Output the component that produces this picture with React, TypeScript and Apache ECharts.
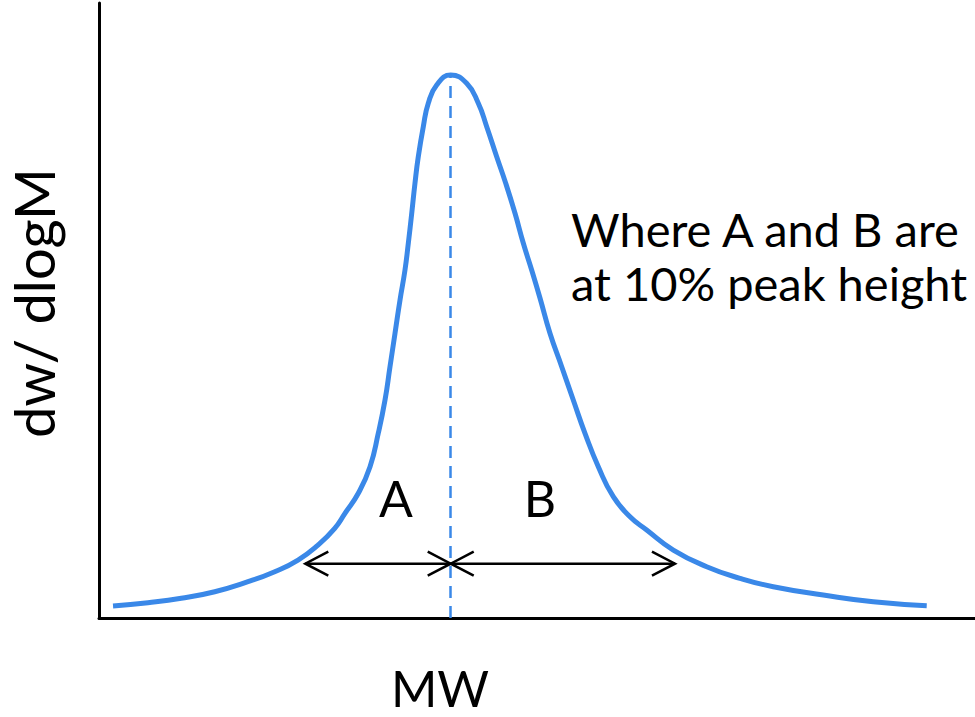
import React, { useEffect, useRef } from "react";
import * as echarts from "echarts";

// Curve: x in % of axis width, y in % of peak height
const curveX = [1.6, 5.59, 9.39, 13.21, 17.01, 20.06, 22.72, 25.0, 26.91, 28.08, 29.6, 30.94, 31.88, 32.65, 33.22, 33.79, 34.36, 34.93, 35.31, 35.7, 36.07, 36.45, 37.02, 37.59, 38.55, 40.15, 41.97, 43.3, 44.26, 45.4, 46.43, 47.49, 48.44, 49.39, 50.34, 51.48, 52.82, 54.14, 55.48, 57.0, 58.71, 60.62, 62.52, 65.56, 69.37, 73.17, 76.97, 82.68, 88.39, 94.49];
const curveY = [2.21, 2.82, 3.63, 4.84, 6.69, 8.53, 10.68, 13.44, 16.52, 19.28, 22.97, 27.86, 34.01, 40.15, 46.28, 52.43, 58.56, 64.09, 69.01, 74.53, 80.06, 84.95, 90.48, 94.79, 98.16, 100, 98.47, 94.79, 90.48, 84.95, 80.06, 74.53, 69.01, 64.09, 58.93, 52.43, 46.28, 40.15, 34.01, 27.86, 22.34, 18.66, 16.21, 12.52, 9.45, 7.31, 5.76, 4.24, 3.0, 2.27];

const peakX = 40.15;
const peakY = 100;
const tenPct = 10;
// widths A and B at 10% peak height: [start, end]
const arrowA = [23.55, peakX];
const arrowB = [peakX, 65.75];

const xLabel = "MW";
const yLabel = "dw/ dlogM";
const noteLines = ["Where A and B are", "at 10% peak height"];
const widthLabels = ["A", "B"];

const BLUE = "#3a88e8";
const FONT = "Lato";

export default function App() {
  const ref = useRef<HTMLDivElement>(null);
  useEffect(() => {
    const chart = echarts.init(ref.current!, undefined, { renderer: "svg" });
    const arrowData = [
      [arrowA[0], arrowA[1], tenPct],
      [arrowB[0], arrowB[1], tenPct],
    ];
    chart.setOption({
      animation: false,
      backgroundColor: "#fff",
      grid: { left: 99, right: 0, top: 3, bottom: 99 },
      xAxis: {
        type: "value",
        min: 0,
        max: 100,
        axisLine: { show: true, lineStyle: { color: "#000", width: 3 } },
        axisTick: { show: false },
        axisLabel: { show: false },
        splitLine: { show: false },
      },
      yAxis: {
        type: "value",
        min: 0,
        max: 113.26,
        axisLine: { show: true, lineStyle: { color: "#000", width: 3 } },
        axisTick: { show: false },
        axisLabel: { show: false },
        splitLine: { show: false },
      },
      series: [
        {
          type: "line",
          data: curveX.map((x, i) => [x, curveY[i]]),
          smooth: 0.5,
          showSymbol: false,
          lineStyle: { color: BLUE, width: 5 },
          markLine: {
            silent: true,
            symbol: "none",
            label: { show: false },
            lineStyle: { color: BLUE, width: 2.5, type: [12, 8] },
            data: [[{ coord: [peakX, 0] }, { coord: [peakX, peakY] }]],
          },
          z: 3,
        },
        {
          type: "custom",
          data: arrowData,
          encode: { x: [0, 1], y: 2 },
          z: 4,
          renderItem: (params: any, api: any) => {
            const p1 = api.coord([api.value(0), api.value(2)]);
            const p2 = api.coord([api.value(1), api.value(2)]);
            const h = 23;
            const w = 12;
            const st = { stroke: "#000", fill: "none", lineWidth: 2.5 };
            return {
              type: "group",
              children: [
                { type: "line", shape: { x1: p1[0], y1: p1[1], x2: p2[0], y2: p2[1] }, style: st },
                {
                  type: "polyline",
                  shape: { points: [[p1[0] + h, p1[1] - w], [p1[0], p1[1]], [p1[0] + h, p1[1] + w]] },
                  style: st,
                },
                {
                  type: "polyline",
                  shape: { points: [[p2[0] - h, p2[1] - w], [p2[0], p2[1]], [p2[0] - h, p2[1] + w]] },
                  style: st,
                },
              ],
            };
          },
        },
      ],
      graphic: [
        {
          type: "text",
          x: 396,
          y: 498,
          style: { text: widthLabels[0], font: `50px ${FONT}`, fill: "#000", align: "center", verticalAlign: "middle" },
        },
        {
          type: "text",
          x: 540,
          y: 498,
          style: { text: widthLabels[1], font: `50px ${FONT}`, fill: "#000", align: "center", verticalAlign: "middle" },
        },
        {
          type: "text",
          x: 571,
          y: 229,
          style: { text: noteLines[0], font: `47px ${FONT}`, fill: "#000", align: "left", verticalAlign: "middle" },
        },
        {
          type: "text",
          x: 571,
          y: 283,
          style: { text: noteLines[1], font: `47px ${FONT}`, fill: "#000", align: "left", verticalAlign: "middle" },
        },
        {
          type: "text",
          x: 440,
          y: 688,
          style: { text: xLabel, font: `50px ${FONT}`, fill: "#000", align: "center", verticalAlign: "middle" },
        },
        {
          type: "text",
          x: 33,
          y: 303,
          rotation: Math.PI / 2,
          style: { text: yLabel, font: `56px ${FONT}`, fill: "#000", align: "center", verticalAlign: "middle" },
        },
      ],
    });
    return () => chart.dispose();
  }, []);
  return <div ref={ref} style={{ position: "fixed", left: 0, top: 0, width: 975, height: 717 }} />;
}
